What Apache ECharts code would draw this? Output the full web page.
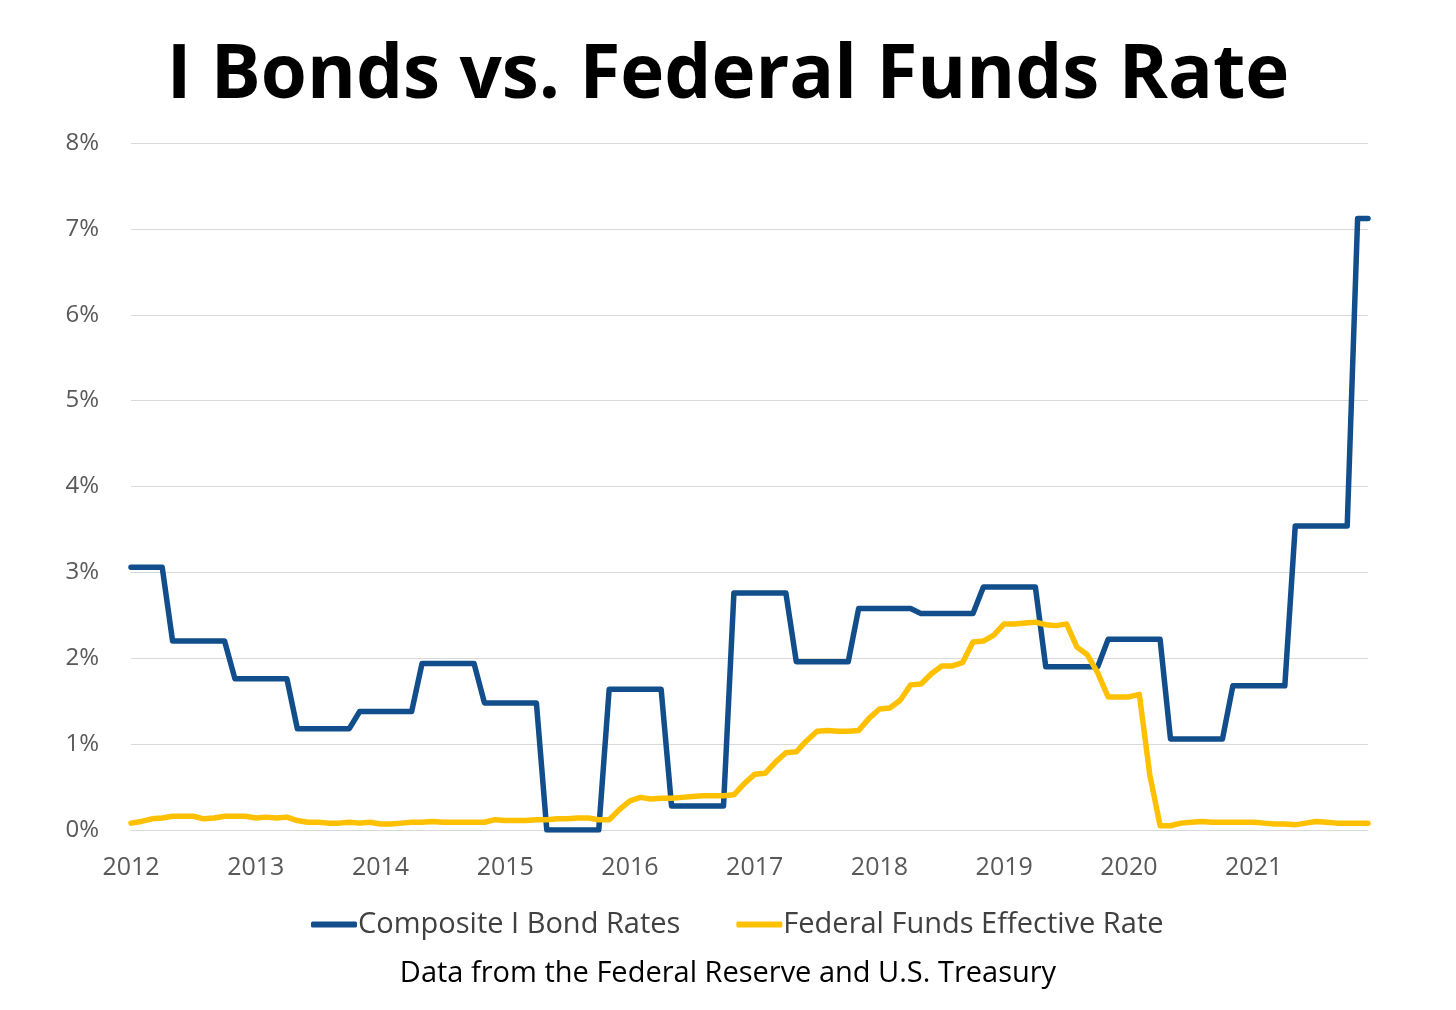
<!DOCTYPE html>
<html>
<head>
<meta charset="utf-8">
<script src="https://cdn.jsdelivr.net/npm/echarts@6/dist/echarts.min.js"></script>
<style>
html,body{margin:0;padding:0;background:#fff;}
#chart{width:1456px;height:1010px;}
</style>
</head>
<body>
<div id="chart"></div>
<script>
// Monthly categories Jan 2012 - Dec 2021
const years = ['2012','2013','2014','2015','2016','2017','2018','2019','2020','2021'];
const months = ['01','02','03','04','05','06','07','08','09','10','11','12'];
const categories = [];
years.forEach(y => months.forEach(m => categories.push(y + '-' + m)));

const yTicks = [0, 1, 2, 3, 4, 5, 6, 7, 8];

// Composite I Bond Rates (%), one value per month
const iBond2012 = [3.06,3.06,3.06,3.06,2.20,2.20,2.20,2.20,2.20,2.20,1.76,1.76];
const iBond2013 = [1.76,1.76,1.76,1.76,1.18,1.18,1.18,1.18,1.18,1.18,1.38,1.38];
const iBond2014 = [1.38,1.38,1.38,1.38,1.94,1.94,1.94,1.94,1.94,1.94,1.48,1.48];
const iBond2015 = [1.48,1.48,1.48,1.48,0.00,0.00,0.00,0.00,0.00,0.00,1.64,1.64];
const iBond2016 = [1.64,1.64,1.64,1.64,0.28,0.28,0.28,0.28,0.28,0.28,2.76,2.76];
const iBond2017 = [2.76,2.76,2.76,2.76,1.96,1.96,1.96,1.96,1.96,1.96,2.58,2.58];
const iBond2018 = [2.58,2.58,2.58,2.58,2.52,2.52,2.52,2.52,2.52,2.52,2.83,2.83];
const iBond2019 = [2.83,2.83,2.83,2.83,1.90,1.90,1.90,1.90,1.90,1.90,2.22,2.22];
const iBond2020 = [2.22,2.22,2.22,2.22,1.06,1.06,1.06,1.06,1.06,1.06,1.68,1.68];
const iBond2021 = [1.68,1.68,1.68,1.68,3.54,3.54,3.54,3.54,3.54,3.54,7.12,7.12];

// Federal Funds Effective Rate (%), one value per month
const ff2012 = [0.08,0.10,0.13,0.14,0.16,0.16,0.16,0.13,0.14,0.16,0.16,0.16];
const ff2013 = [0.14,0.15,0.14,0.15,0.11,0.09,0.09,0.08,0.08,0.09,0.08,0.09];
const ff2014 = [0.07,0.07,0.08,0.09,0.09,0.10,0.09,0.09,0.09,0.09,0.09,0.12];
const ff2015 = [0.11,0.11,0.11,0.12,0.12,0.13,0.13,0.14,0.14,0.12,0.12,0.24];
const ff2016 = [0.34,0.38,0.36,0.37,0.37,0.38,0.39,0.40,0.40,0.40,0.41,0.54];
const ff2017 = [0.65,0.66,0.79,0.90,0.91,1.04,1.15,1.16,1.15,1.15,1.16,1.30];
const ff2018 = [1.41,1.42,1.51,1.69,1.70,1.82,1.91,1.91,1.95,2.19,2.20,2.27];
const ff2019 = [2.40,2.40,2.41,2.42,2.39,2.38,2.40,2.13,2.04,1.83,1.55,1.55];
const ff2020 = [1.55,1.58,0.65,0.05,0.05,0.08,0.09,0.10,0.09,0.09,0.09,0.09];
const ff2021 = [0.09,0.08,0.07,0.07,0.06,0.08,0.10,0.09,0.08,0.08,0.08,0.08];

const iBondRates = [].concat(iBond2012,iBond2013,iBond2014,iBond2015,iBond2016,iBond2017,iBond2018,iBond2019,iBond2020,iBond2021);
const fedFundsRates = [].concat(ff2012,ff2013,ff2014,ff2015,ff2016,ff2017,ff2018,ff2019,ff2020,ff2021);

const FONT = '"Open Sans", "Noto Sans", sans-serif';
const chart = echarts.init(document.getElementById('chart'), null, {renderer: 'canvas'});
chart.setOption({
  backgroundColor: '#ffffff',
  animation: false,
  textStyle: {fontFamily: FONT},
  title: [
    {
      text: 'I Bonds vs. Federal Funds Rate',
      left: 'center',
      top: 34,
      textStyle: {fontFamily: FONT, fontSize: 74.5, fontWeight: 'bold', color: '#000000'}
    },
    {
      text: 'Data from the Federal Reserve and U.S. Treasury',
      left: 'center',
      top: 954,
      textStyle: {fontFamily: FONT, fontSize: 29, fontWeight: 'normal', color: '#000000'}
    }
  ],
  legend: {
    bottom: 66,
    left: 306,
    icon: 'roundRect',
    itemWidth: 46,
    itemHeight: 6,
    itemGap: 56,
    textStyle: {fontFamily: FONT, fontSize: 29, color: '#404040', padding: [0,0,0,-4]},
    data: ['Composite I Bond Rates', 'Federal Funds Effective Rate']
  },
  grid: {left: 131, right: 88, top: 143, bottom: 180, containLabel: false},
  xAxis: {
    type: 'category',
    data: categories,
    boundaryGap: false,
    axisLine: {show: true, lineStyle: {color: '#d9d9d9', width: 1}},
    axisTick: {show: false},
    splitLine: {show: false},
    axisLabel: {
      interval: (idx, val) => val.endsWith('-01'),
      formatter: v => v.slice(0, 4),
      fontFamily: FONT, fontSize: 25, color: '#595959', margin: 25
    }
  },
  yAxis: {
    type: 'value',
    min: yTicks[0],
    max: yTicks[yTicks.length - 1],
    interval: 1,
    axisLine: {show: false},
    axisTick: {show: false},
    splitLine: {lineStyle: {color: '#d9d9d9', width: 1}},
    axisLabel: {formatter: '{value}%', fontFamily: FONT, fontSize: 24, color: '#595959', margin: 32}
  },
  series: [
    {
      name: 'Composite I Bond Rates',
      type: 'line',
      data: iBondRates,
      symbol: 'none',
      color: '#114e8b',
      lineStyle: {color: '#114e8b', width: 5.5, cap: 'round', join: 'round'}
    },
    {
      name: 'Federal Funds Effective Rate',
      type: 'line',
      data: fedFundsRates,
      symbol: 'none',
      color: '#ffc000',
      lineStyle: {color: '#ffc000', width: 5.5, cap: 'round', join: 'round'}
    }
  ]
});
</script>
</body>
</html>
